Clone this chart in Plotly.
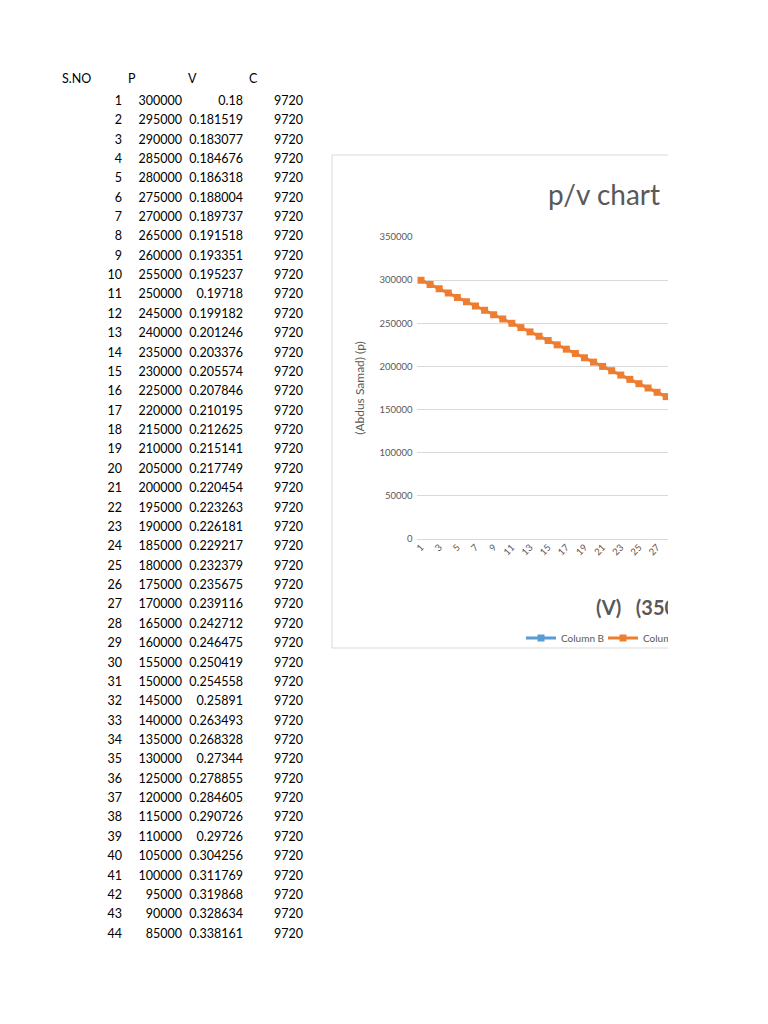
import plotly.graph_objects as go

# spreadsheet columns
sno = [1, 2, 3, 4, 5, 6, 7, 8, 9, 10, 11, 12, 13, 14, 15, 16, 17, 18, 19, 20, 21, 22,
       23, 24, 25, 26, 27, 28, 29, 30, 31, 32, 33, 34, 35, 36, 37, 38, 39, 40, 41, 42, 43, 44]
p = [300000, 295000, 290000, 285000, 280000, 275000, 270000, 265000, 260000, 255000,
     250000, 245000, 240000, 235000, 230000, 225000, 220000, 215000, 210000, 205000,
     200000, 195000, 190000, 185000, 180000, 175000, 170000, 165000, 160000, 155000,
     150000, 145000, 140000, 135000, 130000, 125000, 120000, 115000, 110000, 105000,
     100000, 95000, 90000, 85000]
v = [0.18, 0.181519, 0.183077, 0.184676, 0.186318, 0.188004, 0.189737, 0.191518,
     0.193351, 0.195237, 0.19718, 0.199182, 0.201246, 0.203376, 0.205574, 0.207846,
     0.210195, 0.212625, 0.215141, 0.217749, 0.220454, 0.223263, 0.226181, 0.229217,
     0.232379, 0.235675, 0.239116, 0.242712, 0.246475, 0.250419, 0.254558, 0.25891,
     0.263493, 0.268328, 0.27344, 0.278855, 0.284605, 0.290726, 0.29726, 0.304256,
     0.311769, 0.319868, 0.328634, 0.338161]
c = [9720] * 44
headers = ["S.NO", "P", "V", "C"]

yticks = [0, 50000, 100000, 150000, 200000, 250000, 300000, 350000]
xticks = sno[::2]

# page has an 8px body margin; figure is cut at x=668 like the screenshot
OFF = 8
W, H = 660, 1016
GRAY = "#595959"
FONT = "Lato"


def px(x):
    return (x - OFF) / W


def py(y):
    return 1 - (y - OFF) / H


fig = go.Figure()

tfont = dict(family=FONT, size=12.5, color="black")
# body of the sheet (blank header row keeps the spacing)
fig.add_trace(go.Table(
    domain=dict(x=[px(54), px(311)], y=[0.04, py(66)]),
    columnwidth=[76, 60, 61, 60],
    header=dict(values=["", "", "", ""], height=21.4,
                fill_color="rgba(0,0,0,0)", line_color="rgba(0,0,0,0)", font=tfont),
    cells=dict(values=[sno, p, [str(x) for x in v], c], align="right", height=19.37,
               fill_color="rgba(0,0,0,0)", line_color="rgba(0,0,0,0)", font=tfont),
))
# header labels are left-aligned in their own cells
fig.add_trace(go.Table(
    domain=dict(x=[px(54), px(301)], y=[py(100), py(66)]),
    columnwidth=[66, 60, 61, 60],
    header=dict(values=headers, align="left", height=21.4,
                fill_color="rgba(0,0,0,0)", line_color="rgba(0,0,0,0)", font=tfont),
    cells=dict(values=[[], [], [], []],
               fill_color="rgba(0,0,0,0)", line_color="rgba(0,0,0,0)"),
))

# legend-only series with nothing visible in the plot
fig.add_trace(go.Scatter(
    x=[None], y=[None], name="Column B", mode="lines+markers",
    line=dict(color="#5B9BD5", width=3),
    marker=dict(symbol="square", size=7, color="#5B9BD5"),
))
fig.add_trace(go.Scatter(
    x=sno, y=p, name="Column C", mode="lines+markers",
    line=dict(color="#ED7D31", width=3),
    marker=dict(symbol="square", size=7, color="#ED7D31"),
))

# chart frame (right edge is cut off by the page)
frame = dict(type="line", xref="paper", yref="paper", line=dict(color="#D9D9D9", width=1))
fig.add_shape(x0=px(332), x1=px(332), y0=py(155), y1=py(648), **frame)
fig.add_shape(x0=px(332), x1=1, y0=py(155), y1=py(155), **frame)
fig.add_shape(x0=px(332), x1=1, y0=py(648), y1=py(648), **frame)

fig.add_annotation(
    text="<b>(V)\u00a0\u00a0\u00a0(350000</b>", xref="paper", yref="paper",
    x=px(594), y=py(607), xanchor="left", yanchor="middle", showarrow=False,
    font=dict(family=FONT, size=20, color=GRAY),
)

fig.update_layout(
    width=W, height=H,
    margin=dict(l=0, r=0, t=0, b=0, autoexpand=False),
    paper_bgcolor="white", plot_bgcolor="white",
    font=dict(family=FONT, color=GRAY),
    title=dict(text="p/v chart", x=px(604), xanchor="center", y=py(195),
               yanchor="middle", font=dict(family=FONT, size=28, color=GRAY)),
    xaxis=dict(domain=[px(416.5), 1], range=[0.5, 28.2], tickvals=xticks,
               ticktext=[str(t) for t in xticks], tickangle=-45, showgrid=False,
               zeroline=False, showline=False, ticks="",
               tickfont=dict(family=FONT, size=9.5, color=GRAY)),
    yaxis=dict(domain=[py(539), py(237)], range=[0, 350000], tickvals=yticks,
               tickformat="d", showgrid=True, gridcolor="#D9D9D9", gridwidth=1,
               zeroline=True, zerolinecolor="#D9D9D9", zerolinewidth=1, ticks="",
               ticklabelstandoff=3,
               tickfont=dict(family=FONT, size=9.5, color=GRAY),
               title=dict(text="(Abdus Samad) (p)", standoff=12,
                          font=dict(family=FONT, size=12, color=GRAY))),
    showlegend=True,
    legend=dict(orientation="h", x=px(521), xanchor="left", y=py(638),
                yanchor="middle", bgcolor="rgba(0,0,0,0)", entrywidth=37,
                entrywidthmode="pixels",
                font=dict(family=FONT, size=10, color=GRAY)),
)

fig.write_html("out.html")
